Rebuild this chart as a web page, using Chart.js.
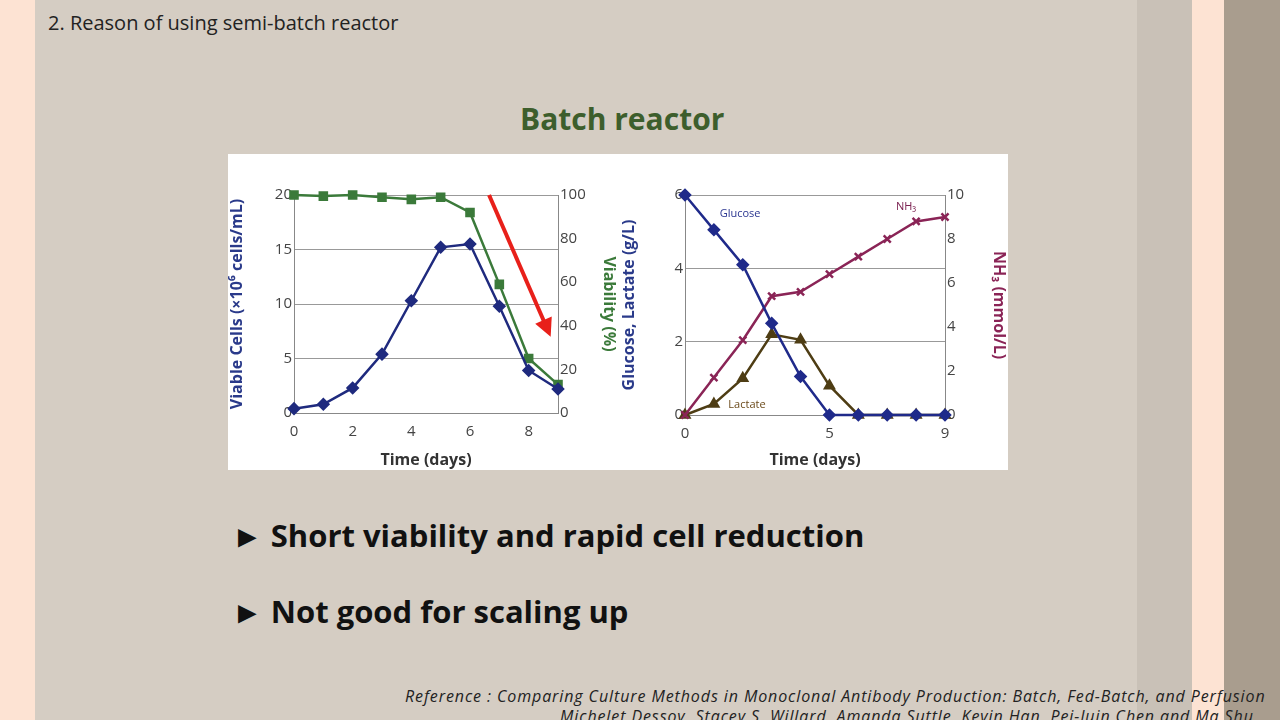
<!DOCTYPE html>
<html><head><meta charset="utf-8">
<script src="https://cdn.jsdelivr.net/npm/chart.js@4"></script>
<style>
body{margin:0;width:1280px;height:720px;overflow:hidden;background:#d5cdc3;font-family:"Open Sans",sans-serif;position:relative}
.strip{position:absolute;top:0;height:720px}
#box{position:absolute;left:228px;top:154px;width:780px;height:316px;background:#fff}
.c{position:absolute;top:155px;height:315px}
.t{position:absolute;white-space:nowrap;z-index:2}
</style></head><body>
<div class="strip" style="left:0;width:35px;background:#fde3d3"></div>
<div class="strip" style="left:1137px;width:55px;background:#c9c1b7"></div>
<div class="strip" style="left:1192px;width:32px;background:#fde3d3"></div>
<div class="strip" style="left:1224px;width:56px;background:#a99d8e"></div>
<div class="t" style="left:48px;top:9px;font-size:20px;color:#222">2. Reason of using semi-batch reactor</div>
<div class="t" style="left:520px;top:98px;font-size:30px;font-weight:bold;color:#3d5e2c">Batch reactor</div>
<div id="box"></div>
<div class="c" style="left:228px;width:390px"><canvas id="c1"></canvas></div>
<div class="c" style="left:620px;width:388px"><canvas id="c2"></canvas></div>
<div class="t" style="left:232px;top:514px;font-size:31px;font-weight:bold;color:#111">► Short viability and rapid cell reduction</div>
<div class="t" style="left:232px;top:590px;font-size:31px;font-weight:bold;color:#111">► Not good for scaling up</div>
<div class="t" style="left:405px;top:685px;font-size:16px;letter-spacing:0.9px;font-style:italic;color:#222">Reference : Comparing Culture Methods in Monoclonal Antibody Production: Batch, Fed-Batch, and Perfusion</div>
<div class="t" style="left:560px;top:705px;font-size:16px;letter-spacing:0.9px;font-style:italic;color:#222">Michelet Dessoy, Stacey S. Willard, Amanda Suttle, Kevin Han, Pei-Juin Chen and Ma Shu</div>
<script>
const days = [0,1,2,3,4,5,6,7,8,9];
const viableCells = [0.4,0.8,2.3,5.4,10.3,15.2,15.5,9.8,3.9,2.2];
const viability = [100,99.5,100,99,98,99,92,59,25,13];
const glucose = [6,5.05,4.1,2.5,1.05,0,0,0,0,0];
const lactate = [0,0.3,1.0,2.2,2.05,0.8,0,0,0,0];
const nh3 = [0,1.7,3.4,5.4,5.6,6.4,7.2,8.0,8.8,9.0];
const leftTicks = [0,2,4,6,8];
const rightTicks = [0,5,9];

const pts = arr => arr.map((v,i)=>({x:days[i],y:v}));
const font = {family:'"Open Sans",sans-serif',size:15};
const tfont = {family:'"Open Sans",sans-serif',size:16,weight:'bold'};

function xAxis(ticks,h){
  return {type:'linear',min:0,max:9,afterBuildTicks:a=>{a.ticks=ticks.map(v=>({value:v}));},
    grid:{display:false},border:{color:'#888'},
    ticks:{color:'#444',font,padding:2},
    title:{display:true,text:'Time (days)',color:'#333',font:tfont,padding:0},
    afterFit:s=>{s.height=h;}};
}
function yAxis(pos,min,max,step,title,col,w,grid){
  return {position:pos,min,max,ticks:{stepSize:step,color:'#444',font,padding:2},
    grid:{display:grid,color:'#999',drawTicks:false},border:{color:'#888'},
    title:{display:true,text:title,color:col,font:tfont,padding:0},
    afterFit:s=>{s.width=w;}};
}
function ds(label,data,col,style,axis){
  return {label,data:pts(data),borderColor:col,backgroundColor:col,pointStyle:style,
    pointRadius:5,borderWidth:2.5,yAxisID:axis,tension:0,clip:false};
}

const arrow = {id:'arrow',afterDatasetsDraw(ch){
  const {ctx,scales:{x,y2}}=ch;
  const x0=x.getPixelForValue(6.65),y0=y2.getPixelForValue(100);
  const x1=x.getPixelForValue(8.75),y1=y2.getPixelForValue(35);
  const a=Math.atan2(y1-y0,x1-x0);
  ctx.save();ctx.strokeStyle='#e8201a';ctx.fillStyle='#e8201a';ctx.lineWidth=4;
  ctx.beginPath();ctx.moveTo(x0,y0);ctx.lineTo(x1-12*Math.cos(a),y1-12*Math.sin(a));ctx.stroke();
  ctx.beginPath();ctx.moveTo(x1,y1);
  ctx.lineTo(x1-18*Math.cos(a)+9*Math.sin(a),y1-18*Math.sin(a)-9*Math.cos(a));
  ctx.lineTo(x1-18*Math.cos(a)-9*Math.sin(a),y1-18*Math.sin(a)+9*Math.cos(a));
  ctx.closePath();ctx.fill();ctx.restore();
}};
const labels = {id:'labels',afterDatasetsDraw(ch){
  const {ctx,scales:{x,y,y2}}=ch;
  ctx.save();ctx.font='11px "Open Sans",sans-serif';
  ctx.fillStyle='#2a3590';ctx.fillText('Glucose',x.getPixelForValue(1.2),y.getPixelForValue(5.4));
  ctx.fillStyle='#6b4a1a';ctx.fillText('Lactate',x.getPixelForValue(1.5),y.getPixelForValue(0.2));
  ctx.fillStyle='#7a2050';ctx.fillText('NH₃',x.getPixelForValue(7.3),y2.getPixelForValue(9.3));
  ctx.restore();
}};

new Chart(document.getElementById('c1'),{type:'line',
  data:{datasets:[ds('Viable cells',viableCells,'#1f2a7e','rectRot','y'),
                  ds('Viability',viability,'#3b7a3a','rect','y2')]},
  options:{responsive:true,maintainAspectRatio:false,animation:false,
    layout:{padding:{top:40,left:0,right:0}},
    plugins:{legend:{display:false},tooltip:{enabled:false}},
    scales:{x:xAxis(leftTicks,57),
      y:yAxis('left',0,20,5,'Viable Cells (×10⁶ cells/mL)','#2a3a8a',66,true),
      y2:yAxis('right',0,100,20,'Viability (%)','#3b7a3a',60,false)}},
  plugins:[arrow]});

new Chart(document.getElementById('c2'),{type:'line',
  data:{datasets:[ds('Glucose',glucose,'#1f2a8a','rectRot','y'),
                  ds('NH3',nh3,'#8a2456','crossRot','y2'),
                  ds('Lactate',lactate,'#4e3d14','triangle','y')]},
  options:{responsive:true,maintainAspectRatio:false,animation:false,
    layout:{padding:{top:40}},
    plugins:{legend:{display:false},tooltip:{enabled:false}},
    scales:{x:xAxis(rightTicks,55),
      y:yAxis('left',0,6,2,'Glucose, Lactate (g/L)','#2a3a8a',65,true),
      y2:yAxis('right',0,10,2,'NH₃ (mmol/L)','#8a2456',63,false)}},
  plugins:[labels]});
</script>
</body></html>
